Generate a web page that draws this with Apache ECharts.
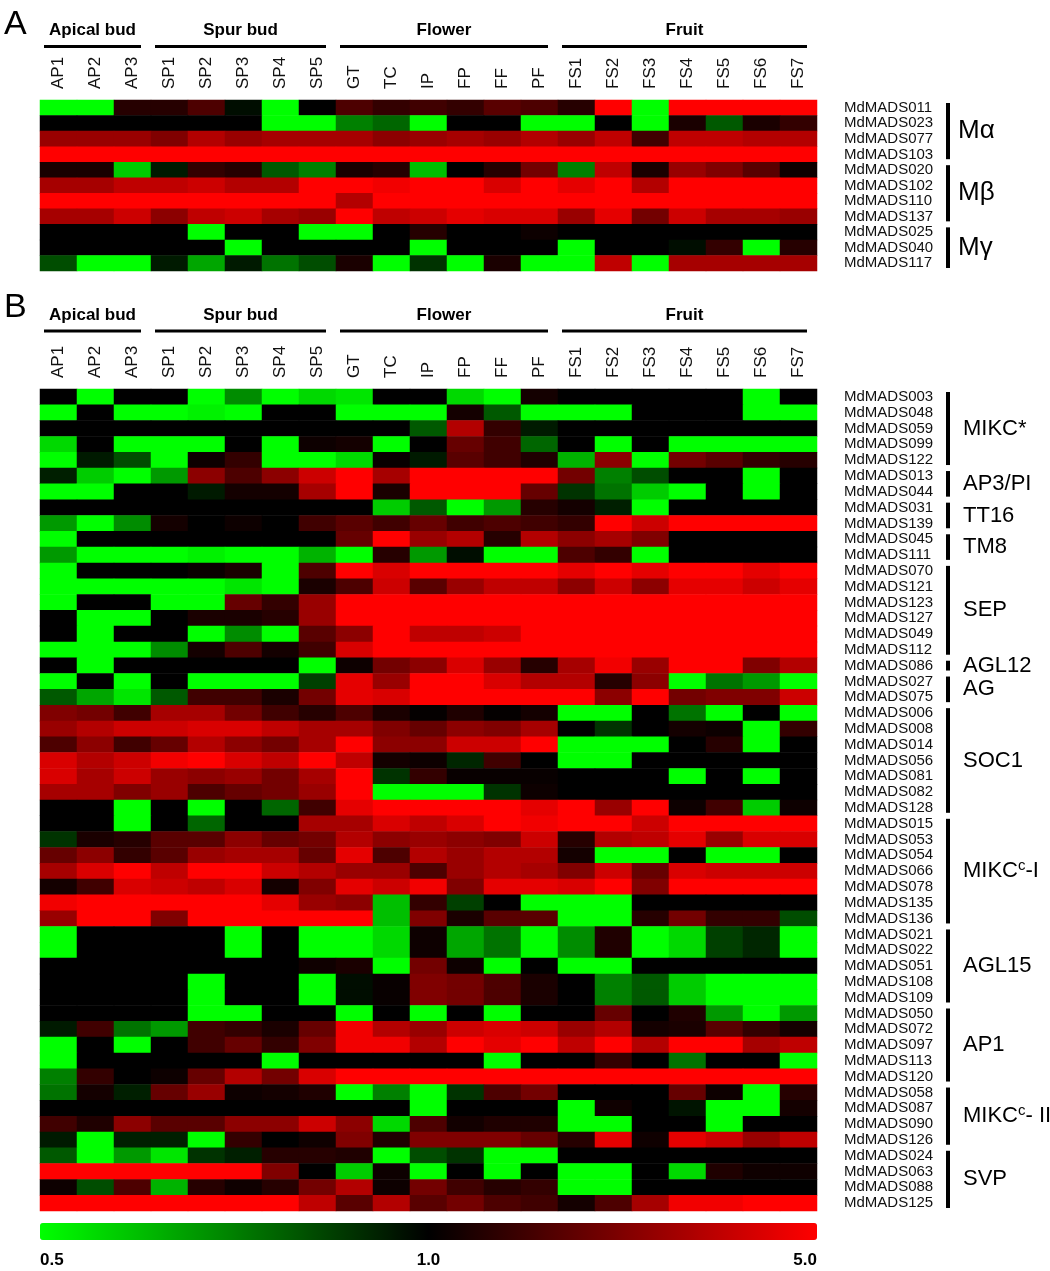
<!DOCTYPE html>
<html>
<head>
<meta charset="utf-8">
<script src="https://cdn.jsdelivr.net/npm/echarts@6/dist/echarts.min.js"></script>
<style>
  html, body { margin: 0; padding: 0; background: #fff; }
  #main { width: 1050px; height: 1271px; }
</style>
</head>
<body>
<div id="main"></div>
<script>
// columns: developmental stages
var stages = ['AP1','AP2','AP3','SP1','SP2','SP3','SP4','SP5','GT','TC','IP','FP','FF','PF','FS1','FS2','FS3','FS4','FS5','FS6','FS7'];
var stageGroups = [['Apical bud', 'AP1', 'AP3'], ['Spur bud', 'SP1', 'SP5'], ['Flower', 'GT', 'PF'], ['Fruit', 'FS1', 'FS7']];

// panel A genes
var genesA = ['MdMADS011','MdMADS023','MdMADS077','MdMADS103','MdMADS020','MdMADS102','MdMADS110','MdMADS137','MdMADS025','MdMADS040','MdMADS117'];
var groupsA = [['Mα', 0, 3], ['Mβ', 4, 7], ['Mγ', 8, 10]];

// panel B genes
var genesB = ['MdMADS003','MdMADS048','MdMADS059','MdMADS099','MdMADS122','MdMADS013','MdMADS044','MdMADS031','MdMADS139','MdMADS045','MdMADS111',
  'MdMADS070','MdMADS121','MdMADS123','MdMADS127','MdMADS049','MdMADS112','MdMADS086','MdMADS027','MdMADS075',
  'MdMADS006','MdMADS008','MdMADS014','MdMADS056','MdMADS081','MdMADS082','MdMADS128',
  'MdMADS015','MdMADS053','MdMADS054','MdMADS066','MdMADS078','MdMADS135','MdMADS136',
  'MdMADS021','MdMADS022','MdMADS051','MdMADS108','MdMADS109','MdMADS050','MdMADS072','MdMADS097','MdMADS113','MdMADS120',
  'MdMADS058','MdMADS087','MdMADS090','MdMADS126','MdMADS024','MdMADS063','MdMADS088','MdMADS125'];
var groupsB = [['MIKC*', 0, 4], ['AP3/PI', 5, 6], ['TT16', 7, 8], ['TM8', 9, 10], ['SEP', 11, 16], ['AGL12', 17, 17], ['AG', 18, 19],
  ['SOC1', 20, 26], ['MIKC{s|c}-I', 27, 33], ['AGL15', 34, 38], ['AP1', 39, 43], ['MIKC{s|c}- II', 44, 47], ['SVP', 48, 51]];

// expression level: -1 = 0.5 fold (green), 0 = 1.0 (black), 1 = 5.0 fold (red)
var valuesA = [
  [-1,-1,0.15,0.15,0.3,-0.05,-1,0,0.3,0.2,0.25,0.2,0.35,0.3,0.15,1,-1,1,1,1,1],
  [0,0,0,0,0,0,-1,-1,-0.5,-0.4,-1,0,0,-1,-1,0,-1,0.1,-0.35,0.1,0.2],
  [0.6,0.6,0.6,0.5,0.7,0.6,0.65,0.65,0.65,0.55,0.6,0.65,0.6,0.7,0.6,0.75,0.25,0.75,0.75,0.7,0.7],
  [1,1,1,1,1,1,1,1,1,1,1,1,1,1,1,1,1,1,1,1,1],
  [0.1,0.1,-0.8,-0.1,0.2,0.15,-0.35,-0.5,0.1,0.15,-0.75,0,0.15,0.45,-0.5,0.75,0.1,0.6,0.5,0.35,0.05],
  [0.65,0.65,0.75,0.75,0.8,0.7,0.7,1,1,0.95,1,1,0.85,1,0.9,1,0.7,1,1,1,1],
  [1,1,1,1,1,1,1,1,0.7,1,1,1,1,1,1,1,1,1,1,1,1],
  [0.65,0.65,0.8,0.55,0.75,0.8,0.65,0.6,1,0.75,0.8,0.9,0.85,0.85,0.6,0.9,0.45,0.8,0.65,0.65,0.6],
  [0,0,0,0,-1,0,0,-1,-1,0,0.15,0,0,0.05,0,0,0,0,0,0,0],
  [0,0,0,0,0,-1,0,0,0,0,-1,0,0,0,-1,0,0,-0.05,0.2,-1,0.15],
  [-0.3,-1,-1,-0.1,-0.65,-0.1,-0.45,-0.3,0.1,-1,-0.2,-1,0.1,-1,-1,0.75,-1,0.65,0.65,0.65,0.65]
];

var valuesB = [
  [0,-1,0,0,-1,-0.55,-1,-0.85,-0.9,0,0,-0.85,-1,0.08,0,0,0,0,0,-1,0],
  [-1,0,-1,-1,-0.95,-1,0,0,-1,-1,-1,0.08,-0.35,-1,-1,-1,0,0,0,-1,-1],
  [0,0,0,0,0,0,0,0,0,0,-0.35,0.7,0.2,-0.1,0,0,0,0,0,0,0],
  [-0.85,0,-1,-1,-1,0,-1,0.05,0.08,-1,0,0.4,0.25,-0.4,0,-1,0,-1,-1,-1,-1],
  [-1,-0.1,-0.3,-1,0.05,0.2,-1,-1,-0.85,0.03,-0.1,0.35,0.25,0.12,-0.7,0.55,-1,0.45,0.35,0.2,0.15],
  [-0.12,-0.8,-1,-0.6,0.55,0.3,0.55,0.8,1,0.65,1,1,1,1,0.45,-0.5,-0.3,0,0,-1,0],
  [-1,-1,0,0,-0.1,0.08,0.08,0.65,1,0.1,1,1,1,0.4,-0.2,-0.45,-0.8,-1,0,-1,0],
  [0,0,0,0,0,0,0,0,0,-0.8,-0.35,-1,-0.6,0.15,0.08,-0.12,-1,0,0,0,0],
  [-0.6,-1,-0.55,0.08,0,0.05,0,0.25,0.35,0.25,0.4,0.25,0.3,0.25,0.2,1,0.8,1,1,1,1],
  [-1,0,0,0,0,0,0,0,0.4,1,0.6,0.7,0.15,0.7,0.55,0.65,0.5,0,0,0,0],
  [-0.6,-1,-1,-1,-0.95,-1,-1,-0.7,-1,0.15,-0.6,-0.05,-1,-1,0.3,0.2,-1,0,0,0,0],
  [-1,0,0,0,0.04,0.1,-1,0.3,1,0.85,1,1,1,1,0.9,1,0.9,1,1,0.9,1],
  [-1,-1,-1,-1,-1,-0.9,-1,0.1,0.3,0.8,0.35,0.6,0.75,0.75,0.55,0.8,0.55,0.9,0.9,0.8,0.9],
  [-1,0,0,-1,-1,0.4,0.2,0.6,1,1,1,1,1,1,1,1,1,1,1,1,1],
  [0,-1,-1,0,0.1,0.1,0.15,0.6,1,1,1,1,1,1,1,1,1,1,1,1,1],
  [0,-1,0,0,-1,-0.55,-1,0.35,0.55,1,0.75,0.75,0.8,1,1,1,1,1,1,1,1],
  [-1,-1,-1,-0.55,0.08,0.3,0.08,0.25,0.85,1,1,1,1,1,1,1,1,1,1,1,1],
  [0,-1,0,0,0,0,0,-1,0.05,0.45,0.55,0.85,0.6,0.15,0.65,0.95,0.6,1,1,0.5,0.7],
  [-1,0,-1,0,-1,-1,-1,-0.25,0.9,0.6,1,1,0.85,0.7,0.7,0.15,0.55,-1,-0.45,-0.6,-1],
  [-0.35,-0.65,-0.9,-0.35,0.25,0.25,0.1,0.45,0.9,0.85,1,1,1,1,1,0.55,1,0.45,0.5,0.5,0.8],
  [0.5,0.45,0.25,0.65,0.65,0.45,0.25,0.15,0.3,0.1,0.02,0.12,0.02,0.08,-1,-1,0,-0.45,-1,0,-1],
  [0.6,0.7,0.8,0.8,0.85,0.85,0.75,0.65,0.65,0.5,0.4,0.55,0.5,0.65,0,-0.2,0,0.08,0.05,-1,0.2],
  [0.3,0.55,0.25,0.4,0.7,0.55,0.45,0.65,1,0.55,0.55,0.8,0.8,1,-1,-1,-1,0,0.15,-1,0],
  [0.85,0.7,0.8,0.95,1,0.85,0.75,1,0.75,0.08,0.05,-0.15,0.25,0,-1,-1,0,0,0,0,0],
  [0.85,0.65,0.8,0.6,0.55,0.6,0.45,0.65,1,-0.2,0.2,0.03,0.03,0.03,0,0,0,-1,0,-1,0],
  [0.65,0.65,0.5,0.6,0.3,0.4,0.45,0.6,1,-1,-1,-1,-0.2,0.05,0,0,0,0,0,0,0],
  [0,0,-1,0,-1,0,-0.4,0.25,0.9,1,1,1,1,0.9,1,0.6,1,0.05,0.25,-0.8,0.05],
  [0,0,-1,0,-0.4,0,0,0.65,0.65,0.85,0.75,0.85,1,0.95,1,1,0.8,1,1,1,1],
  [-0.2,0.1,0.15,0.35,0.35,0.55,0.4,0.45,0.7,0.55,0.6,0.55,0.5,0.8,0.15,0.7,0.75,0.9,0.6,0.85,0.85],
  [0.4,0.55,0.2,0.35,0.6,0.65,0.65,0.4,0.9,0.3,0.7,0.6,0.7,0.7,0.08,-1,-1,0,-1,-1,0],
  [0.65,0.85,1,0.75,1,1,0.8,0.7,0.6,0.6,0.3,0.6,0.7,0.65,0.5,0.8,0.4,0.85,0.8,0.8,0.8],
  [0.08,0.25,0.85,0.8,0.75,0.85,0.08,0.5,0.9,0.8,0.95,0.5,0.9,0.9,0.85,1,0.5,1,1,1,1],
  [0.95,1,1,1,1,1,0.9,0.6,0.55,-0.75,0.2,-0.25,0,-1,-1,-1,0,0,0,0,0],
  [0.6,1,1,0.5,1,1,1,1,1,-0.75,0.5,0.1,0.35,0.35,-1,-1,0.15,0.45,0.2,0.2,-0.3],
  [-1,0,0,0,0,-1,0,-1,-1,-0.85,0.05,-0.65,-0.45,-1,-0.55,0.12,-1,-0.85,-0.25,-0.15,-1],
  [-1,0,0,0,0,-1,0,-1,-1,-0.85,0.05,-0.65,-0.45,-1,-0.55,0.12,-1,-0.85,-0.25,-0.15,-1],
  [0,0,0,0,0,0,0,0.06,0.1,-1,0.45,0.05,-1,0,-1,-1,0,0,0,0,0],
  [0,0,0,0,-1,0,0,-1,-0.05,0.03,0.5,0.45,0.3,0.1,0,-0.5,-0.35,-0.8,-1,-1,-1],
  [0,0,0,0,-1,0,0,-1,-0.05,0.03,0.5,0.45,0.3,0.1,0,-0.5,-0.35,-0.8,-1,-1,-1],
  [0,0,0,0,-1,-1,0,0,-1,0,-1,0,-1,0,0,0.4,0,0.12,-0.6,-1,-0.6],
  [-0.1,0.25,-0.45,-0.6,0.25,0.2,0.1,0.4,0.95,0.7,0.6,0.8,0.85,0.8,0.6,0.7,0.08,0.1,0.35,0.2,0.08],
  [-1,0,-1,0,0.25,0.4,0.2,0.5,0.95,0.95,0.7,1,0.9,1,0.75,1,0.7,1,1,0.65,0.75],
  [-1,0,0,0,0,0,-1,0,0,0,0,0,-1,0,0,0.2,0,-0.45,0,0,-1],
  [-0.5,0.2,0,0.05,0.4,0.7,0.45,0.85,1,1,1,1,1,1,1,1,1,1,1,1,1],
  [-0.45,0.08,-0.12,0.4,0.6,0.05,0.08,0.12,-1,-0.5,-1,-0.2,0.3,0.45,0,0,0,0.4,0.05,-1,0.15],
  [0,0,0,0,0,0,0,0,0,0,-1,0,0,0,-1,0.06,0,-0.08,-1,-1,0.08],
  [0.25,0.12,0.55,0.35,0.35,0.55,0.55,0.8,0.55,-0.85,0.3,0.07,0.12,0.12,-1,-1,0,0,-1,0,0],
  [-0.1,-1,-0.12,-0.12,-1,0.2,0,0.06,0.5,0.12,0.5,0.5,0.5,0.4,0.15,0.9,0.06,0.9,0.8,0.6,0.75],
  [-0.35,-1,-0.6,-0.9,-0.2,-0.12,0.15,0.15,0.12,-1,-0.3,-0.2,-1,-1,0,0,0,0,0,0,0],
  [1,1,1,1,1,1,0.5,0,-0.8,0.05,-1,0,-1,0,-1,-1,0,-0.85,0.12,0.06,0.06],
  [0.05,-0.3,0.3,-0.7,0.15,0.06,0.15,0.45,0.7,0.05,0.45,0.25,0.15,0.2,-1,-1,0,0,0,0,0],
  [1,1,1,1,1,1,1,0.75,0.35,0.7,0.35,0.45,0.3,0.25,0.08,0.3,0.65,0.95,0.95,1,1]
];

// colour bar tick labels (fold change)
var scaleTicks = ['0.5', '1.0', '5.0'];

var chart = echarts.init(document.getElementById('main'));

// layout of the two panels
var panels = [
  { letter: 'A', genes: genesA, values: valuesA, groups: groupsA, top: 100, height: 171, letterY: 8, headY: 30, lineY: 46.5, groupFont: 26 },
  { letter: 'B', genes: genesB, values: valuesB, groups: groupsB, top: 389, height: 822, letterY: 291, headY: 315, lineY: 331, groupFont: 22 }
];
var barLeft = 40, barWidth = 777, barTop = 1223, barH = 17;

function toCells(values) {
  var out = [];
  values.forEach(function (row, r) {
    row.forEach(function (v, c) { out.push([c, r, v]); });
  });
  return out;
}

var grids = [], xAxes = [], yAxes = [], series = [];
panels.forEach(function (p, i) {
  grids.push({ left: 40, width: 777, top: p.top, height: p.height });
  xAxes.push({
    type: 'category', gridIndex: i, position: 'top', data: stages,
    axisLine: { show: false }, axisTick: { show: false }, splitArea: { show: false },
    axisLabel: { rotate: -90, interval: 0, margin: 11, fontSize: 17, color: '#111', fontFamily: 'Arial' }
  });
  yAxes.push({
    type: 'category', gridIndex: i, position: 'right', inverse: true, data: p.genes,
    axisLine: { show: false }, axisTick: { show: false },
    axisLabel: { interval: 0, margin: 27, fontSize: 15, color: '#111', fontFamily: 'Arial' }
  });
  series.push({
    type: 'heatmap', xAxisIndex: i, yAxisIndex: i, data: toCells(p.values),
    itemStyle: { borderWidth: 0 }, emphasis: { disabled: true }, progressive: 0
  });
});

chart.setOption({
  animation: false,
  textStyle: { fontFamily: 'Arial' },
  grid: grids,
  xAxis: xAxes,
  yAxis: yAxes,
  visualMap: {
    type: 'continuous', min: -1, max: 1, orient: 'horizontal',
    left: barLeft, top: barTop, itemWidth: barH, itemHeight: barWidth,
    padding: 0, calculable: false, hoverLink: false, seriesIndex: [0, 1],
    inRange: { color: ['#00ff00', '#000000', '#ff0000'] }
  },
  series: series
});

// labels, group bars and brackets placed from the axes
var g = [];
panels.forEach(function (p, i) {
  var cw = chart.convertToPixel({ xAxisIndex: i }, stages[1]) - chart.convertToPixel({ xAxisIndex: i }, stages[0]);
  var rh = chart.convertToPixel({ yAxisIndex: i }, p.genes[1]) - chart.convertToPixel({ yAxisIndex: i }, p.genes[0]);
  g.push({ type: 'text', x: 4, y: p.letterY, style: { text: p.letter, fontSize: 34, fontFamily: 'Arial', fill: '#000' } });
  stageGroups.forEach(function (sg) {
    var l = chart.convertToPixel({ xAxisIndex: i }, sg[1]) - cw / 2 + 4;
    var r = chart.convertToPixel({ xAxisIndex: i }, sg[2]) + cw / 2 - 10;
    g.push({ type: 'rect', shape: { x: l, y: p.lineY - 1.5, width: r - l, height: 3 }, style: { fill: '#000' } });
    g.push({ type: 'text', x: (l + r) / 2, y: p.headY,
      style: { text: sg[0], fontSize: 17, fontWeight: 'bold', fontFamily: 'Arial', fill: '#000', align: 'center', verticalAlign: 'middle' } });
  });
  p.groups.forEach(function (gr) {
    var y0 = chart.convertToPixel({ yAxisIndex: i }, p.genes[gr[1]]) - rh / 2 + 3;
    var y1 = chart.convertToPixel({ yAxisIndex: i }, p.genes[gr[2]]) + rh / 2 - 3;
    g.push({ type: 'rect', shape: { x: 946, y: y0, width: 4, height: y1 - y0 }, style: { fill: '#000' } });
    g.push({ type: 'text', x: i === 0 ? 958 : 963, y: (y0 + y1) / 2,
      style: { text: gr[0], fontSize: p.groupFont, fontFamily: 'Arial', fill: '#000', align: 'left', verticalAlign: 'middle',
        rich: { s: { fontSize: 15, verticalAlign: 'top', padding: [0, 0, 10, 0] } } } });
  });
});
scaleTicks.forEach(function (t, k) {
  var x = barLeft + barWidth * k / (scaleTicks.length - 1);
  g.push({ type: 'text', x: x, y: 1260,
    style: { text: t, fontSize: 17, fontWeight: 'bold', fontFamily: 'Arial', fill: '#000',
      align: k === 0 ? 'left' : (k === scaleTicks.length - 1 ? 'right' : 'center'), verticalAlign: 'middle' } });
});
chart.setOption({ graphic: g });
</script>
</body>
</html>
